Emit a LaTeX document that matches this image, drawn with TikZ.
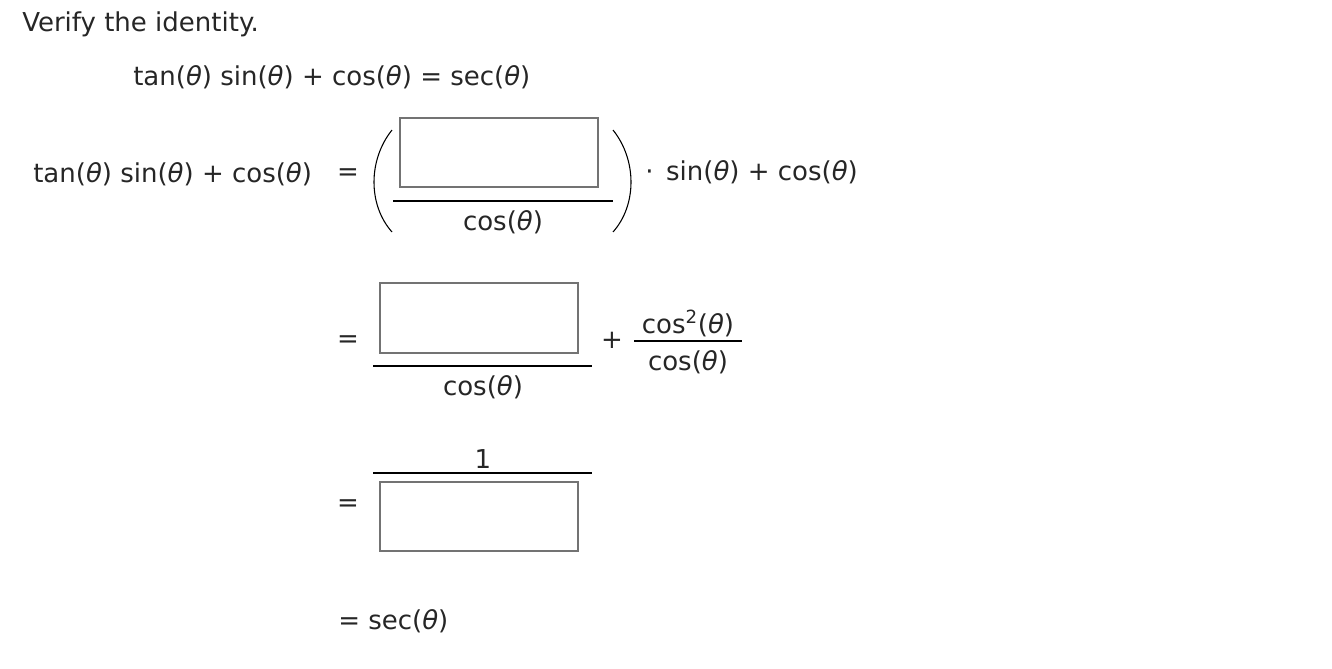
\documentclass[tikz,border=0pt]{standalone}
\usepackage{fontspec}
\setmainfont{DejaVu Sans}
\newcommand{\thq}{{\itshape θ}}
\begin{document}
\begin{tikzpicture}[x=0.75pt,y=-0.75pt,
  t/.style={inner sep=0pt,font=\fontsize{19.5}{22}\selectfont,text=black!85},
  ansbox/.style={draw=black!55,line width=0.9pt},
  frac/.style={line width=0.8pt}]
\useasboundingbox (0,0) rectangle (1332,668);
\node[t,anchor=west] (v) at (22,24) {Verify the identity.};
\node[t,anchor=west] (id) at (133,77) {tan(\thq) sin(\thq) + cos(\thq) = sec(\thq)};
% row 2
\node[t,anchor=west] (l2) at (33,174) {tan(\thq) sin(\thq) + cos(\thq)};
\node[t] (e2) at (348,175) {=};
\draw[ansbox] (400,118) rectangle (598,187);
\draw[frac] (393,201) -- (613,201);
\node[t] (c2) at (503,222) {cos(\thq)};
\draw[line width=0.8pt] (392,130) .. controls (368,160) and (368,205) .. (392,232);
\draw[line width=0.8pt] (613,130) .. controls (637,160) and (637,205) .. (613,232);
\node[t,anchor=west] (r2) at (645,172) {·\, sin(\thq) + cos(\thq)};
% row 3
\node[t] (e3) at (348,342) {=};
\draw[ansbox] (380,283) rectangle (578,353);
\draw[frac] (373,366) -- (592,366);
\node[t] (c3) at (483,387) {cos(\thq)};
\node[t] (p3) at (612,340) {+};
\node[t] (n3) at (688,323) {cos\textsuperscript{2}(\thq)};
\draw[frac] (634,341) -- (742,341);
\node[t] (d3) at (688,362) {cos(\thq)};
% row 4
\node[t] (one) at (483,459) {1};
\draw[frac] (373,473) -- (592,473);
\draw[ansbox] (380,482) rectangle (578,551);
\node[t] (e4) at (348,506) {=};
% row 5
\node[t,anchor=west] (s5) at (338,621) {= sec(\thq)};
\end{tikzpicture}
\end{document}
